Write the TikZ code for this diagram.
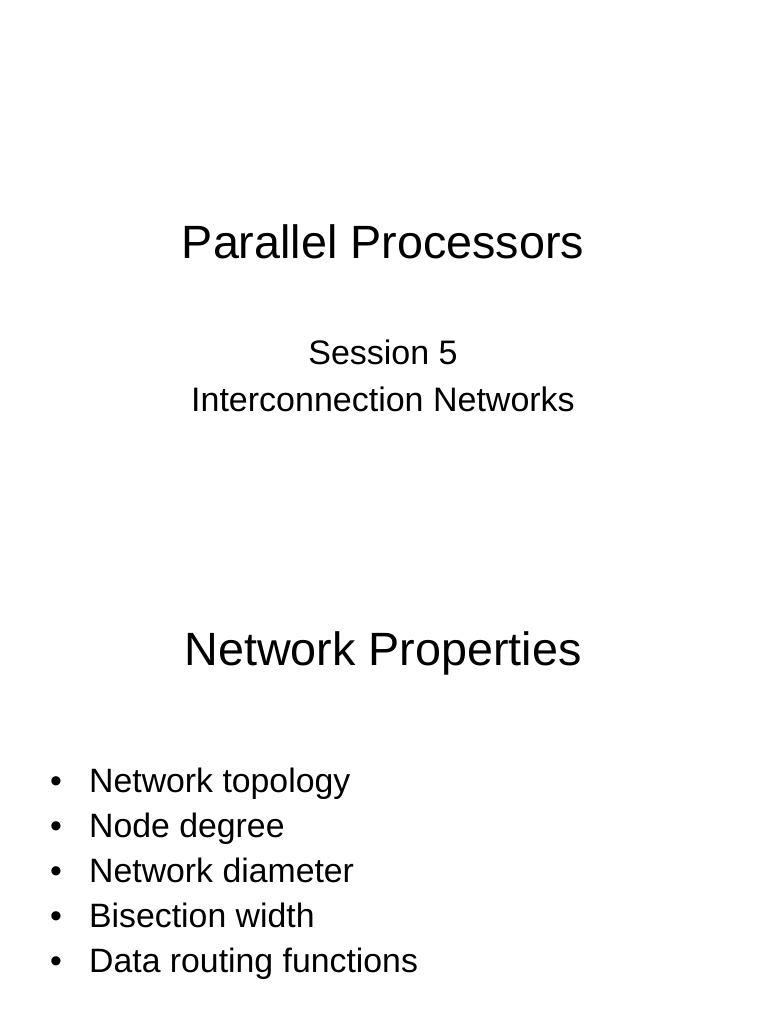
\documentclass[tikz,border=0pt]{standalone}
\usepackage{fontspec}
\setmainfont{Liberation Sans}
\begin{document}
\begin{tikzpicture}[x=1pt,y=1pt,
  title/.style={anchor=base,inner sep=0pt,font=\fontsize{46.7}{52}\selectfont},
  sub/.style={anchor=base,inner sep=0pt,font=\fontsize{34}{40}\selectfont},
  item/.style={anchor=base west,inner sep=0pt,font=\fontsize{33.8}{40}\selectfont}]
\useasboundingbox (0,0) rectangle (768,1024);
\node[title] (t1) at (383,1024-259) {Parallel Processors};
\node[sub] (s1) at (383,1024-365) {Session 5};
\node[sub] (s2) at (383,1024-412) {Interconnection Networks};
\node[title] (t2) at (383,1024-666) {Network Properties};
\foreach \i/\t in {0/Network topology,1/Node degree,2/Network diameter,3/Bisection width,4/Data routing functions}{
  \node[item] (b\i) at (50,1024-793-45*\i) {•};
  \node[item] (i\i) at (89,1024-793-45*\i) {\t};
}
\end{tikzpicture}
\end{document}
